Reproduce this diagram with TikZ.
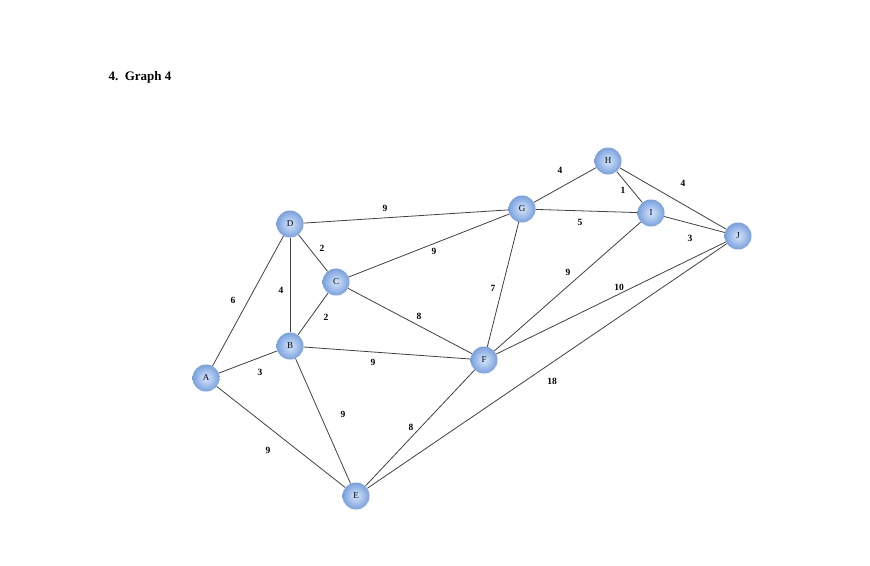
\documentclass[tikz,border=0pt]{standalone}
\usepackage{fontspec}
\setmainfont{Liberation Serif}
\definecolor{nodeout}{RGB}{120,160,222}
\definecolor{nodein}{RGB}{215,230,250}
\begin{document}
\begin{tikzpicture}[x=1pt,y=-1pt,
  vert/.style={circle,minimum size=27pt,inner sep=0pt,shading=radial,inner color=nodein,outer color=nodeout,font=\fontsize{9}{10}\selectfont},
  edge/.style={draw=black!75,line width=0.8pt},
  wt/.style={font=\bfseries\fontsize{9.5}{10}\selectfont}]
\useasboundingbox (0,0) rectangle (870,565);
\node[anchor=west,font=\bfseries\fontsize{13}{14}\selectfont] (title) at (105,77) {4.\ \ Graph 4};
\node[vert] (A) at (206,378) {A};
\node[vert] (B) at (290,346) {B};
\node[vert] (C) at (336,282) {C};
\node[vert] (D) at (290,224) {D};
\node[vert] (E) at (356,496) {E};
\node[vert] (F) at (484,360) {F};
\node[vert] (G) at (522,209) {G};
\node[vert] (H) at (608,161) {H};
\node[vert] (I) at (651,213) {I};
\node[vert] (J) at (738,236) {J};
\begin{scope}[on background layer/.style={}]
\foreach \a/\b in {A/D,A/B,A/E,D/B,D/C,D/G,C/B,C/G,C/F,B/F,B/E,E/F,E/J,F/G,F/I,F/J,G/H,G/I,H/I,H/J,I/J}
  \draw[edge] (\a) -- (\b);
\end{scope}
\node[wt] (w1) at (233,300) {6};
\node[wt] (w2) at (281,290) {4};
\node[wt] (w3) at (322,248) {2};
\node[wt] (w4) at (326,317) {2};
\node[wt] (w5) at (260,372) {3};
\node[wt] (w6) at (268,450) {9};
\node[wt] (w7) at (385,208) {9};
\node[wt] (w8) at (434,251) {9};
\node[wt] (w9) at (419,316) {8};
\node[wt] (w10) at (373,362) {9};
\node[wt] (w11) at (343,414) {9};
\node[wt] (w12) at (411,427) {8};
\node[wt] (w13) at (552,381) {18};
\node[wt] (w14) at (493,288) {7};
\node[wt] (w15) at (568,272) {9};
\node[wt] (w16) at (619,287) {10};
\node[wt] (w17) at (560,170) {4};
\node[wt] (w18) at (580,222) {5};
\node[wt] (w19) at (623,190) {1};
\node[wt] (w20) at (683,183) {4};
\node[wt] (w21) at (690,238) {3};
\end{tikzpicture}
\end{document}
